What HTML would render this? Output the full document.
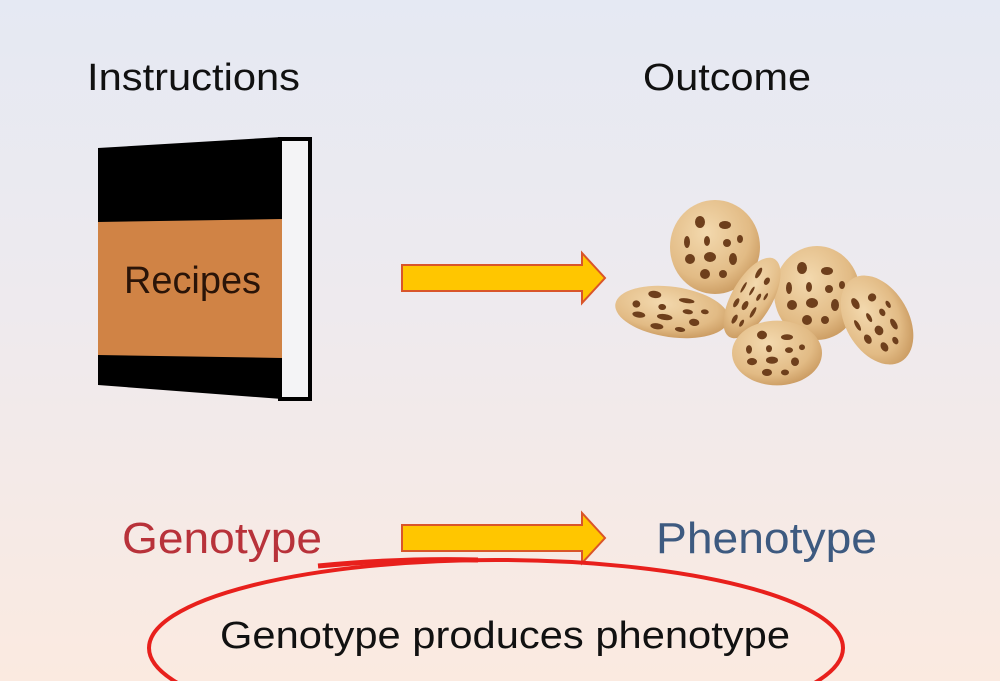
<!DOCTYPE html>
<html><head><meta charset="utf-8"><style>
html,body{margin:0;padding:0;width:1000px;height:681px;overflow:hidden}
svg{display:block;overflow:hidden}
</style></head><body>
<svg width="1000" height="681" viewBox="0 0 1000 681" overflow="hidden" xmlns="http://www.w3.org/2000/svg">
<defs>
<linearGradient id="bg" x1="0" y1="0" x2="0" y2="1">
<stop offset="0" stop-color="#e5e9f3"/><stop offset="0.45" stop-color="#eeeaee"/><stop offset="1" stop-color="#fbeae0"/>
</linearGradient>
<radialGradient id="ck" cx="0.4" cy="0.35" r="0.7">
<stop offset="0" stop-color="#f3d9ae"/><stop offset="0.7" stop-color="#e2bb85"/><stop offset="1" stop-color="#c9995f"/>
</radialGradient>
<g id="chips" fill="#6e3f1c">
<ellipse cx="-15" cy="-25" rx="5" ry="6"/><ellipse cx="10" cy="-22" rx="6" ry="4"/>
<ellipse cx="-28" cy="-5" rx="3" ry="6"/><ellipse cx="-8" cy="-6" rx="3" ry="5"/>
<ellipse cx="12" cy="-4" rx="4" ry="4"/><ellipse cx="-25" cy="12" rx="5" ry="5"/>
<ellipse cx="-5" cy="10" rx="6" ry="5"/><ellipse cx="18" cy="12" rx="4" ry="6"/>
<ellipse cx="-10" cy="27" rx="5" ry="5"/><ellipse cx="8" cy="27" rx="4" ry="4"/>
<ellipse cx="25" cy="-8" rx="3" ry="4"/>
</g>
</defs>
<rect width="1000" height="681" fill="url(#bg)"/>

<g font-family="Liberation Sans, sans-serif">
<text x="87" y="90" font-size="38" fill="#111" textLength="213" lengthAdjust="spacingAndGlyphs">Instructions</text>
<text x="643" y="90" font-size="38" fill="#111" textLength="168" lengthAdjust="spacingAndGlyphs">Outcome</text>
</g>

<rect x="280" y="139" width="30" height="260" fill="#f4f4f6" stroke="#000" stroke-width="4"/>
<polygon points="98,148 282,137 282,399 98,385" fill="#000"/>
<polygon points="98,222 282,219 282,358 98,355" fill="#d08345"/>
<text x="124" y="293" font-family="Liberation Sans, sans-serif" font-size="38" fill="#2a1408" textLength="137" lengthAdjust="spacingAndGlyphs">Recipes</text>

<polygon points="402,265 582,265 582,253 605,278 582,303 582,291 402,291" fill="#ffc600" stroke="#d9552a" stroke-width="2"/>
<polygon points="402,525 582,525 582,513 605,538 582,563 582,551 402,551" fill="#ffc600" stroke="#d9552a" stroke-width="2"/>

<g>
<g transform="translate(672,312) rotate(8) scale(1.3,0.6)"><ellipse rx="44" ry="42" fill="url(#ck)"/><use href="#chips"/></g>
<g transform="translate(715,247)"><ellipse rx="45" ry="47" fill="url(#ck)"/><use href="#chips"/></g>
<g transform="translate(817,293)"><ellipse rx="43" ry="47" fill="url(#ck)"/><use href="#chips"/></g>
<g transform="translate(877,320) rotate(-30) scale(0.7,1)"><ellipse rx="45" ry="48" fill="url(#ck)"/><use href="#chips"/></g>
<g transform="translate(752,298) rotate(30) scale(0.45,1)"><ellipse rx="45" ry="45" fill="url(#ck)"/><use href="#chips"/></g>
<g transform="translate(777,353) scale(1,0.72)"><ellipse rx="45" ry="45" fill="url(#ck)"/><use href="#chips"/></g>
</g>

<g font-family="Liberation Sans, sans-serif">
<text x="122" y="553" font-size="44" fill="#b8323a" textLength="200" lengthAdjust="spacingAndGlyphs">Genotype</text>
<text x="656" y="553" font-size="44" fill="#3d5a80" textLength="221" lengthAdjust="spacingAndGlyphs">Phenotype</text>
<text x="220" y="648" font-size="38" fill="#111" textLength="570" lengthAdjust="spacingAndGlyphs">Genotype produces phenotype</text>
</g>

<ellipse cx="496" cy="648" rx="347" ry="88" fill="none" stroke="#e8201c" stroke-width="4"/>
<path d="M318,566 Q400,558 478,560" fill="none" stroke="#e8201c" stroke-width="5"/>
</svg>
</body></html>
